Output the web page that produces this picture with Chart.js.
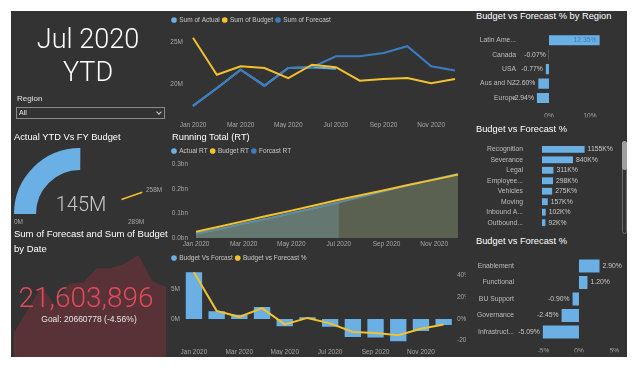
<!DOCTYPE html>
<html><head><meta charset="utf-8"><title>Budget vs Forecast Dashboard</title>
<script src="https://cdn.jsdelivr.net/npm/chart.js@4.4.1/dist/chart.umd.min.js"></script>
<style>
html,body{margin:0;padding:0;background:#fff;}
body{width:640px;height:370px;position:relative;overflow:hidden;font-family:'Liberation Sans',Arial,sans-serif;}
#bg{position:absolute;left:11px;top:11px;width:616px;height:346px;background:#333333;}
canvas{position:absolute;z-index:1;}
.t{position:absolute;z-index:2;white-space:nowrap;line-height:1;color:#fff;}
.title{font-size:9.3px;}
.small{font-size:6.5px;color:#a6a6a6;}
.light{font-family:Roboto,'Liberation Sans',Arial,sans-serif;font-weight:300;}
</style></head><body>
<div id="bg"></div>

<canvas id="cA" width="300" height="122" style="left:165px;top:11px"></canvas>
<canvas id="cB" width="300" height="112" style="left:165px;top:138px"></canvas>
<canvas id="cC" width="301" height="107" style="left:165px;top:250px"></canvas>
<canvas id="cD" width="152" height="102" style="left:14px;top:255px"></canvas>
<canvas id="cH" width="132" height="66" style="left:14px;top:148px"></canvas>
<canvas id="cE" width="157" height="95" style="left:470px;top:28px"></canvas>
<canvas id="cF" width="157" height="96" style="left:470px;top:138px"></canvas>
<canvas id="cG" width="157" height="107" style="left:470px;top:250px"></canvas>

<div class="t light" style="left:11px;top:22.8px;width:154px;text-align:center;font-size:27px;line-height:33px">Jul 2020<br>YTD</div>
<div class="t" style="left:17px;top:94.6px;font-size:8px;color:#e0e0e0">Region</div>
<div class="t" style="left:16px;top:107px;width:147px;height:10px;border:1px solid #8a8a8a;"></div>
<div class="t" style="left:19px;top:109px;font-size:7px;color:#e8e8e8">All</div>
<div class="t" style="left:157px;top:109.5px;width:3px;height:3px;border-right:1px solid #cfcfcf;border-bottom:1px solid #cfcfcf;transform:rotate(45deg);"></div>

<div class="t title" style="left:14px;top:133px">Actual YTD Vs FY Budget</div>
<div class="t light" id="gaugeVal" style="left:41px;top:194px;width:80px;text-align:center;font-size:20px;color:#c8c8c8"></div>
<div class="t small" id="gaugeMin" style="left:14px;top:218.5px"></div>
<div class="t small" id="gaugeMaxL" style="left:128px;top:218.5px"></div>
<div class="t small" id="gaugeTgt" style="left:146px;top:186.5px"></div>

<div class="t title" style="left:14px;top:228.8px;font-size:9.5px">Sum of Forecast and Sum of Budget</div>
<div class="t title" style="left:14px;top:243.8px;font-size:9.5px">by Date</div>
<div class="t light" id="kpiVal" style="left:9px;top:284.4px;width:154px;text-align:center;font-size:28px;color:#E04B5B"></div>
<div class="t" id="kpiGoal" style="left:14px;top:315.3px;width:150px;text-align:center;font-size:8.5px;color:#e6e6e6"></div>

<div class="t title" style="left:172px;top:132.5px">Running Total (RT)</div>

<div class="t title" style="left:476px;top:11.5px">Budget vs Forecast % by Region</div>
<div class="t title" style="left:476px;top:125px">Budget vs Forecast %</div>
<div class="t title" style="left:476px;top:237px">Budget vs Forecast %</div>
<div class="t" style="left:622px;top:141px;width:3px;height:91px;border:1px solid #6c6c6c;border-radius:3px;"></div>
<div class="t" style="left:622px;top:141px;width:5px;height:29px;background:#a0a0a0;border-radius:3px;"></div>

<script>
// ---------- data ----------
const months = ['Jan 2020','Feb 2020','Mar 2020','Apr 2020','May 2020','Jun 2020','Jul 2020','Aug 2020','Sep 2020','Oct 2020','Nov 2020','Dec 2020'];
const sumActual   = [17.4, 19.5, 21.7, 19.8, 21.9, 22.0, 21.8];
const sumBudget   = [25.5, 21.1, 22.1, 21.9, 20.7, 22.3, 22.0, 20.4, 20.6, 20.7, 20.1, 20.6];
const sumForecast = [17.4, 19.5, 21.7, 19.8, 21.9, 22.0, 23.3, 23.3, 23.7, 24.5, 22.1, 21.6];
const actualRT    = [17.4, 36.9, 58.6, 78.4, 100.3, 122.3, 144.1];
const budgetRT    = [25.5, 46.6, 68.7, 90.6, 111.3, 133.6, 155.6, 176.0, 196.6, 217.3, 237.4, 258.0];
const forecastRT  = [17.4, 36.9, 58.6, 78.4, 100.3, 122.3, 145.6, 168.9, 192.6, 217.1, 239.2, 260.8];
const budgetVsForecast    = [7.8, 1.3, 0.7, 2.0, -1.2, 0.3, -1.3, -3.0, -3.1, -3.7, -2.0, -1.0];
const budgetVsForecastPct = [43, 7.5, 2, 10, -5, 1, -4, -12, -13, -15, -9, -5];
const regions   = ['Latin Ame...','Canada','USA','Aus and NZ','Europe'];
const regionPct = [12.35, -0.07, -0.77, -2.60, -2.94];
const accounts    = ['Recognition','Severance','Legal','Employee...','Vehicles','Moving','Inbound A...','Outbound...'];
const accountPctK = [1155, 840, 311, 298, 275, 157, 102, 92];
const functionsL  = ['Enablement','Functional','BU Support','Governance','Infrastruct...'];
const functionPct = [2.90, 1.20, -0.90, -2.45, -5.09];
const gaugeActual = 145, gaugeMax = 289, gaugeMin = 0, gaugeTarget = 258;
const kpiValue = 21603896, kpiGoal = 20660778, kpiPct = -4.56;

// ---------- style ----------
const LBLUE = '#6AB0E4', YELLOW = '#F2C12E', DBLUE = '#3A7DC0';
const FONT = "'Liberation Sans', Arial, sans-serif";
Chart.defaults.font.family = FONT;
Chart.defaults.color = '#a6a6a6';
Chart.defaults.animation = false;
Chart.defaults.responsive = false;
Chart.defaults.devicePixelRatio = 1;
Chart.defaults.plugins.tooltip.enabled = false;
Chart.defaults.layout.autoPadding = false;

document.getElementById('gaugeVal').textContent = gaugeActual + 'M';
document.getElementById('gaugeMin').textContent = gaugeMin + 'M';
document.getElementById('gaugeMaxL').textContent = gaugeMax + 'M';
document.getElementById('gaugeTgt').textContent = gaugeTarget + 'M';
document.getElementById('kpiVal').textContent = kpiValue.toLocaleString('en-US');
document.getElementById('kpiGoal').textContent = 'Goal: ' + kpiGoal + ' (' + kpiPct.toFixed(2) + '%)';

const legendOpts = {
  display: true, position: 'top', align: 'start',
  labels: {
    usePointStyle: true, pointStyle: 'circle', boxWidth: 4, boxHeight: 4, padding: 3,
    color: '#c8c8c8', font: { size: 6.5 },
    sort: (a, b) => a.datasetIndex - b.datasetIndex,
    generateLabels(chart) {
      return Chart.defaults.plugins.legend.labels.generateLabels(chart).map(l => {
        l.fillStyle = l.strokeStyle; l.lineWidth = 0; l.pointStyle = 'circle'; return l;
      });
    }
  }
};
const noGrid = { display: false, drawTicks: false };
const noBorder = { display: false };
const everyOther = function (v, i) { return i % 2 === 0 ? this.getLabelForValue(v) : ''; };

// ---------- A: monthly lines ----------
new Chart(document.getElementById('cA'), {
  type: 'line',
  data: { labels: months, datasets: [
    { label: 'Sum of Actual', data: sumActual, borderColor: LBLUE, backgroundColor: LBLUE, borderWidth: 2, pointRadius: 0, tension: 0, order: 2 },
    { label: 'Sum of Budget', data: sumBudget, borderColor: YELLOW, backgroundColor: YELLOW, borderWidth: 2, pointRadius: 0, tension: 0, order: 0 },
    { label: 'Sum of Forecast', data: sumForecast, borderColor: DBLUE, backgroundColor: DBLUE, borderWidth: 2, pointRadius: 0, tension: 0, order: 1 }
  ]},
  options: {
    layout: { padding: { left: 4, right: 10, top: 2.75, bottom: 5 } },
    plugins: { legend: legendOpts },
    scales: {
      x: { grid: noGrid, border: noBorder, ticks: { font: { size: 6.5 }, padding: 5, autoSkip: false, maxRotation: 0, callback: everyOther }, afterFit(s) { s.height = 12; } },
      y: { min: 16.19, max: 26.04, grid: noGrid, border: noBorder, ticks: { font: { size: 6.5 }, padding: 10, stepSize: 5, includeBounds: false, callback: v => v + 'M' }, afterFit(s) { s.width = 24; } }
    }
  }
});

// ---------- B: running total ----------
new Chart(document.getElementById('cB'), {
  type: 'line',
  data: { labels: months, datasets: [
    { label: 'Actual RT', data: actualRT, borderColor: LBLUE, backgroundColor: 'rgba(110,180,230,0.30)', fill: 'origin', borderWidth: 1.5, pointRadius: 0, tension: 0, order: 2 },
    { label: 'Budget RT', data: budgetRT, borderColor: YELLOW, backgroundColor: 'rgba(242,195,40,0.20)', fill: 'origin', borderWidth: 2, pointRadius: 0, tension: 0, order: 0 },
    { label: 'Forcast RT', data: forecastRT, borderColor: DBLUE, backgroundColor: 'rgba(60,125,190,0.30)', fill: 'origin', borderWidth: 2, pointRadius: 0, tension: 0, order: 1 }
  ]},
  options: {
    layout: { padding: { left: 4, right: 7, top: 6.75, bottom: 2 } },
    plugins: { legend: legendOpts },
    scales: {
      x: { grid: noGrid, border: noBorder, ticks: { font: { size: 6.5 }, padding: 2, autoSkip: false, maxRotation: 0, callback: everyOther }, afterFit(s) { s.height = 10; } },
      y: { min: 0, max: 300, grid: noGrid, border: noBorder, ticks: { font: { size: 6.5 }, padding: 8, stepSize: 100, callback: v => (v / 1000).toFixed(1) + 'bn' }, afterFit(s) { s.width = 27; } }
    }
  }
});

// ---------- C: budget vs forecast combo ----------
new Chart(document.getElementById('cC'), {
  data: { labels: months, datasets: [
    { type: 'bar', label: 'Budget Vs Forcast', data: budgetVsForecast, backgroundColor: LBLUE, borderColor: LBLUE, borderWidth: 0, barPercentage: 0.72, categoryPercentage: 1, yAxisID: 'y', order: 1 },
    { type: 'line', label: 'Budget vs Forecast %', data: budgetVsForecastPct, borderColor: YELLOW, backgroundColor: YELLOW, borderWidth: 2, pointRadius: 0, tension: 0, yAxisID: 'y1', order: 0 }
  ]},
  options: {
    layout: { padding: { left: 4, right: 0, top: 1.75, bottom: 2 } },
    plugins: { legend: legendOpts },
    scales: {
      x: { grid: noGrid, border: noBorder, ticks: { font: { size: 6.5 }, padding: 3, autoSkip: false, maxRotation: 0, callback: everyOther }, afterFit(s) { s.height = 10; } },
      y: { position: 'left', min: -4.33, max: 7.96, grid: noGrid, border: noBorder, ticks: { font: { size: 6.5 }, padding: 2.6, stepSize: 5, includeBounds: false, callback: v => v + 'M' }, afterFit(s) { s.width = 13.6; } },
      y1: { position: 'right', min: -23.96, max: 44.0, grid: noGrid, border: noBorder, ticks: { font: { size: 6.5 }, padding: 2, stepSize: 20, includeBounds: false, callback: v => v + '%' }, afterFit(s) { s.width = 11; } }
    }
  }
});

// ---------- D: KPI trend area ----------
new Chart(document.getElementById('cD'), {
  type: 'line',
  data: { labels: months, datasets: [
    { label: 'Forecast trend', data: sumForecast, borderWidth: 0, borderColor: 'rgba(0,0,0,0)', backgroundColor: 'rgba(175,50,65,0.30)', fill: 'start', pointRadius: 0, tension: 0 }
  ]},
  options: {
    layout: { padding: 0 },
    plugins: { legend: { display: false } },
    scales: { x: { display: false }, y: { display: false, min: 15.2, max: 24.5 } }
  }
});

// ---------- H: gauge ----------
const targetLine = {
  id: 'targetLine',
  afterDatasetsDraw(chart) {
    const arc = chart.getDatasetMeta(0).data[0];
    const p = arc.getProps(['x', 'y', 'innerRadius', 'outerRadius', 'startAngle'], true);
    const a = p.startAngle + Math.PI * (gaugeTarget - gaugeMin) / (gaugeMax - gaugeMin);
    const ctx = chart.ctx;
    ctx.save();
    ctx.strokeStyle = YELLOW; ctx.lineWidth = 1.5;
    ctx.beginPath();
    ctx.moveTo(p.x + Math.cos(a) * p.innerRadius, p.y + Math.sin(a) * p.innerRadius);
    ctx.lineTo(p.x + Math.cos(a) * p.outerRadius, p.y + Math.sin(a) * p.outerRadius);
    ctx.stroke();
    ctx.restore();
  }
};
new Chart(document.getElementById('cH'), {
  type: 'doughnut',
  data: { labels: ['Actual YTD', 'Remaining'], datasets: [
    { data: [gaugeActual - gaugeMin, gaugeMax - gaugeActual], backgroundColor: [LBLUE, 'rgba(0,0,0,0)'], borderWidth: 0 }
  ]},
  options: {
    rotation: -90, circumference: 180, cutout: '66.67%',
    layout: { padding: 0 },
    plugins: { legend: { display: false } }
  },
  plugins: [targetLine]
});

// ---------- bar label plugin ----------
const barLabels = {
  id: 'barLabels',
  afterDatasetsDraw(chart, args, opts) {
    const ctx = chart.ctx;
    const meta = chart.getDatasetMeta(0);
    const data = chart.data.datasets[0].data;
    ctx.save();
    ctx.font = (opts.size || 7) + 'px ' + FONT;
    ctx.textBaseline = 'middle';
    meta.data.forEach((bar, i) => {
      const v = data[i];
      const txt = opts.fmt(v);
      const p = bar.getProps(['x', 'y'], true);
      if (v >= 0) {
        if (opts.insidePositive) { ctx.textAlign = 'right'; ctx.fillStyle = opts.insideColor; ctx.fillText(txt, p.x - 3, p.y); }
        else { ctx.textAlign = 'left'; ctx.fillStyle = opts.color; ctx.fillText(txt, p.x + 3, p.y); }
      } else {
        ctx.textAlign = 'right'; ctx.fillStyle = opts.color; ctx.fillText(txt, p.x - 3, p.y);
      }
    });
    ctx.restore();
  }
};
const catTicks = (pad) => ({ font: { size: 6.8 }, color: '#bdbdbd', padding: pad, autoSkip: false });

// ---------- E: by region ----------
new Chart(document.getElementById('cE'), {
  type: 'bar',
  data: { labels: regions, datasets: [
    { label: 'Budget vs Forecast %', data: regionPct, backgroundColor: LBLUE, borderWidth: 0, barPercentage: 0.7, categoryPercentage: 1 }
  ]},
  options: {
    indexAxis: 'y',
    layout: { padding: { left: 0, right: 12.4, top: 4.75, bottom: 5.75 } },
    plugins: { legend: { display: false }, barLabels: { fmt: v => v.toFixed(2) + '%', color: '#c8c8c8', insideColor: '#3F7BB5', insidePositive: true, size: 6.8 } },
    scales: {
      x: { min: -7.8, max: 16, grid: noGrid, border: noBorder, ticks: { font: { size: 6.5 }, padding: 7.5, stepSize: 10, includeBounds: false, callback: v => v + '%' }, afterFit(s) { s.height = 12; } },
      y: { grid: noGrid, border: noBorder, ticks: catTicks(1), afterFit(s) { s.width = 47; } }
    }
  },
  plugins: [barLabels]
});

// ---------- F: by account ----------
new Chart(document.getElementById('cF'), {
  type: 'bar',
  data: { labels: accounts, datasets: [
    { label: 'Budget vs Forecast %', data: accountPctK, backgroundColor: LBLUE, borderWidth: 0, barPercentage: 0.65, categoryPercentage: 1 }
  ]},
  options: {
    indexAxis: 'y',
    layout: { padding: { left: 0, right: 15, top: 5.6, bottom: 4.6 } },
    plugins: { legend: { display: false }, barLabels: { fmt: v => v + 'K%', color: '#c8c8c8', size: 6.8 } },
    scales: {
      x: { display: false, min: -460, max: 1897 },
      y: { grid: noGrid, border: noBorder, ticks: catTicks(2), afterFit(s) { s.width = 55; } }
    }
  },
  plugins: [barLabels]
});

// ---------- G: by function ----------
new Chart(document.getElementById('cG'), {
  type: 'bar',
  data: { labels: functionsL, datasets: [
    { label: 'Budget vs Forecast %', data: functionPct, backgroundColor: LBLUE, borderWidth: 0, barPercentage: 0.79, categoryPercentage: 1 }
  ]},
  options: {
    indexAxis: 'y',
    layout: { padding: { left: 0, right: 5, top: 7.75, bottom: 4.75 } },
    plugins: { legend: { display: false }, barLabels: { fmt: v => v.toFixed(2) + '%', color: '#c8c8c8', size: 6.8 } },
    scales: {
      x: { min: -8.73, max: 6.06, grid: noGrid, border: noBorder, ticks: { font: { size: 6.5 }, padding: 7.5, stepSize: 5, includeBounds: false, callback: v => v + '%' }, afterFit(s) { s.height = 12; } },
      y: { grid: noGrid, border: noBorder, ticks: catTicks(3), afterFit(s) { s.width = 47; } }
    }
  },
  plugins: [barLabels]
});
</script>
</body></html>
